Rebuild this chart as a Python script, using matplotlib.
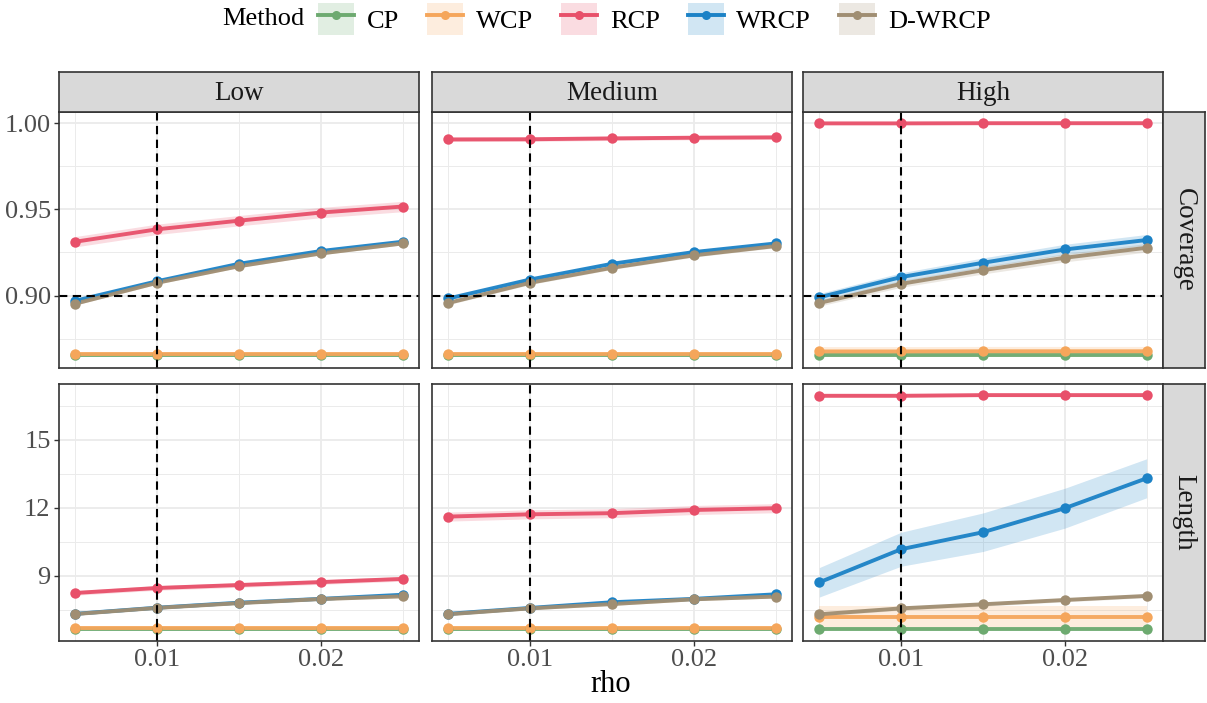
import matplotlib
matplotlib.use('Agg')
import matplotlib.pyplot as plt
import numpy as np
from matplotlib.lines import Line2D
from matplotlib.patches import Patch

plt.rcParams['font.family'] = ['Liberation Serif', 'DejaVu Serif']

# -------------------------------------------------------------------------------------------------
# Data

rho = [0.005, 0.01, 0.015, 0.02, 0.025]
methods = ['CP', 'WCP', 'RCP', 'WRCP', 'D-WRCP']
levels = ['Low', 'Medium', 'High']
metrics = ['Coverage', 'Length']
colors = ['#6DAA70', '#F5A65B', '#E8506A', '#1C82C6', '#A08E72']

# Coverage
cov_low = {
    'CP':     [0.8655, 0.8655, 0.8655, 0.8655, 0.8655],
    'WCP':    [0.8660, 0.8660, 0.8660, 0.8660, 0.8660],
    'RCP':    [0.9312, 0.9384, 0.9434, 0.9481, 0.9516],
    'WRCP':   [0.8970, 0.9083, 0.9184, 0.9258, 0.9312],
    'D-WRCP': [0.8953, 0.9074, 0.9170, 0.9244, 0.9302],
}
cov_med = {
    'CP':     [0.8655, 0.8655, 0.8655, 0.8655, 0.8655],
    'WCP':    [0.8660, 0.8660, 0.8660, 0.8660, 0.8660],
    'RCP':    [0.9905, 0.9906, 0.9911, 0.9915, 0.9917],
    'WRCP':   [0.8983, 0.9093, 0.9184, 0.9252, 0.9302],
    'D-WRCP': [0.8957, 0.9074, 0.9161, 0.9233, 0.9287],
}
cov_high = {
    'CP':     [0.8653, 0.8653, 0.8653, 0.8653, 0.8653],
    'WCP':    [0.8676, 0.8676, 0.8677, 0.8677, 0.8677],
    'RCP':    [0.9998, 0.9998, 0.9999, 0.9999, 0.9999],
    'WRCP':   [0.8990, 0.9107, 0.9190, 0.9267, 0.9322],
    'D-WRCP': [0.8957, 0.9068, 0.9147, 0.9219, 0.9277],
}
# half width of the shaded bands
cov_low_band = {'CP': 0.0004, 'WCP': 0.0006, 'RCP': 0.0030, 'WRCP': 0.0008, 'D-WRCP': 0.0008}
cov_med_band = {'CP': 0.0004, 'WCP': 0.0006, 'RCP': 0.0012, 'WRCP': 0.0010, 'D-WRCP': 0.0010}
cov_high_band = {
    'CP': 0.0004, 'WCP': 0.0028, 'RCP': 0.0002,
    'WRCP':   [0.0022, 0.0025, 0.0028, 0.0030, 0.0032],
    'D-WRCP': [0.0018, 0.0020, 0.0022, 0.0024, 0.0025],
}

# Length
len_low = {
    'CP':     [6.68, 6.68, 6.68, 6.68, 6.68],
    'WCP':    [6.70, 6.70, 6.70, 6.70, 6.70],
    'RCP':    [8.25, 8.47, 8.60, 8.73, 8.87],
    'WRCP':   [7.33, 7.60, 7.82, 7.99, 8.17],
    'D-WRCP': [7.32, 7.59, 7.80, 7.98, 8.10],
}
len_med = {
    'CP':     [6.68, 6.68, 6.68, 6.68, 6.68],
    'WCP':    [6.70, 6.70, 6.70, 6.70, 6.70],
    'RCP':    [11.62, 11.72, 11.77, 11.91, 11.99],
    'WRCP':   [7.33, 7.59, 7.84, 7.99, 8.19],
    'D-WRCP': [7.31, 7.57, 7.76, 7.97, 8.09],
}
len_high = {
    'CP':     [6.66, 6.66, 6.66, 6.66, 6.66],
    'WCP':    [7.20, 7.20, 7.20, 7.20, 7.20],
    'RCP':    [16.95, 16.95, 16.98, 16.98, 16.98],
    'WRCP':   [8.72, 10.18, 10.93, 11.99, 13.31],
    'D-WRCP': [7.31, 7.57, 7.75, 7.94, 8.12],
}
len_low_band = {'CP': 0.03, 'WCP': 0.04, 'RCP': 0.10, 'WRCP': 0.06, 'D-WRCP': 0.05}
len_med_band = {'CP': 0.03, 'WCP': 0.05, 'RCP': 0.20, 'WRCP': 0.07, 'D-WRCP': 0.06}
len_high_band = {
    'CP': 0.04, 'WCP': 0.46, 'RCP': 0.06,
    'WRCP': [0.65, 0.75, 0.85, 0.88, 0.86],
    'D-WRCP': 0.08,
}

panels = [[(cov_low, cov_low_band), (cov_med, cov_med_band), (cov_high, cov_high_band)],
          [(len_low, len_low_band), (len_med, len_med_band), (len_high, len_high_band)]]

# -------------------------------------------------------------------------------------------------
# Layout (pixels of the 1207x703 picture)

W, H = 1207, 703
col_x = [(59, 419), (432, 792), (803, 1163)]
row_y = [(112, 368), (384, 641)]
strip_top = (72, 112)
strip_right = (1163, 1205)
ylims = [(0.858, 1.0064), (6.13, 17.47)]
yticks = [[0.90, 0.95, 1.00], [9, 12, 15]]
yminor = [[0.875, 0.925, 0.975], [7.5, 10.5, 13.5, 16.5]]
ytick_fmt = ['{:.2f}', '{:g}']

def frac(x0, y0, x1, y1):
    return [x0 / W, 1 - y1 / H, (x1 - x0) / W, (y1 - y0) / H]

border = '#333333'
strip_fill = '#D9D9D9'
grid_col = '#EBEBEB'
line_w = 2.8
mark_s = 7.5

fig = plt.figure(figsize=(W / 100, H / 100), dpi=100)

for r in range(2):
    for c in range(3):
        vals, band = panels[r][c]
        ax = fig.add_axes(frac(col_x[c][0], row_y[r][0], col_x[c][1], row_y[r][1]))
        ax.set_xlim(0.004, 0.026)
        ax.set_ylim(*ylims[r])
        ax.set_xticks([0.01, 0.02])
        ax.set_xticks([0.005, 0.015, 0.025], minor=True)
        ax.set_yticks(yticks[r])
        ax.set_yticks(yminor[r], minor=True)
        ax.grid(True, which='major', color=grid_col, lw=1.3, zorder=0)
        ax.grid(True, which='minor', color=grid_col, lw=0.7, zorder=0)
        ax.set_axisbelow(True)
        for s in ax.spines.values():
            s.set_color(border)
            s.set_linewidth(1.2)
            s.set_zorder(6)

        x = np.array(rho)
        for m, col in zip(methods, colors):
            y = np.array(vals[m])
            hw = np.asarray(band[m]) * np.ones_like(y)
            ax.fill_between(x, y - hw, y + hw, color=col, alpha=0.2, lw=0, zorder=1)
        for m, col in zip(methods, colors):
            ax.plot(x, vals[m], color=col, lw=line_w, alpha=0.95, solid_capstyle='butt', zorder=2)
        for m, col in zip(methods, colors):
            ax.plot(x, vals[m], ls='none', marker='o', ms=mark_s, color=col, mec='none', zorder=3)

        ax.axvline(0.01, color='black', ls=(0, (4, 2.6)), lw=1.5, zorder=4)
        if r == 0:
            ax.axhline(0.90, color='black', ls=(0, (4, 2.6)), lw=1.5, zorder=4)

        ax.tick_params(which='minor', length=0)
        ax.tick_params(which='major', length=3.5, width=1, color=border,
                       labelsize=19, labelcolor='#4D4D4D', pad=2.5)
        if c == 0:
            ax.set_yticklabels([ytick_fmt[r].format(v) for v in yticks[r]])
        else:
            ax.tick_params(axis='y', length=0, labelleft=False)
        if r == 1:
            ax.set_xticklabels(['0.01', '0.02'])
        else:
            ax.tick_params(axis='x', length=0, labelbottom=False)

# strips on top
for c in range(3):
    sax = fig.add_axes(frac(col_x[c][0], strip_top[0], col_x[c][1], strip_top[1]))
    sax.set_facecolor(strip_fill)
    sax.set_xticks([])
    sax.set_yticks([])
    for s in sax.spines.values():
        s.set_color(border)
        s.set_linewidth(1.2)
    sax.text(0.5, 0.47, levels[c], ha='center', va='center', fontsize=19.5,
             color='#1A1A1A', transform=sax.transAxes)

# strips on the right
for r in range(2):
    sax = fig.add_axes(frac(strip_right[0], row_y[r][0], strip_right[1], row_y[r][1]))
    sax.set_facecolor(strip_fill)
    sax.set_xticks([])
    sax.set_yticks([])
    for s in sax.spines.values():
        s.set_color(border)
        s.set_linewidth(1.2)
    sax.text(0.5, 0.5, metrics[r], ha='center', va='center', fontsize=19.5,
             color='#1A1A1A', rotation=-90, transform=sax.transAxes)

# axis title
fig.text(611 / W, 1 - 684 / H, 'rho', ha='center', va='center', fontsize=22, color='black')

# legend
fig.text(222 / W, 1 - 19 / H, 'Method', ha='left', va='center', fontsize=19)
handles = []
for m, col in zip(methods, colors):
    handles.append((Patch(facecolor=col, alpha=0.2, edgecolor='none'),
                    Line2D([], [], color=col, lw=line_w, marker='o', ms=6.5, mec='none')))
fig.legend(handles, methods, loc='center left', bbox_to_anchor=(318 / W, 1 - 19 / H),
           ncol=5, frameon=False, fontsize=19, handlelength=1.36, handleheight=1.48,
           handletextpad=0.49, columnspacing=1.06, borderpad=0, borderaxespad=0)

plt.savefig('out.png', dpi=100)
